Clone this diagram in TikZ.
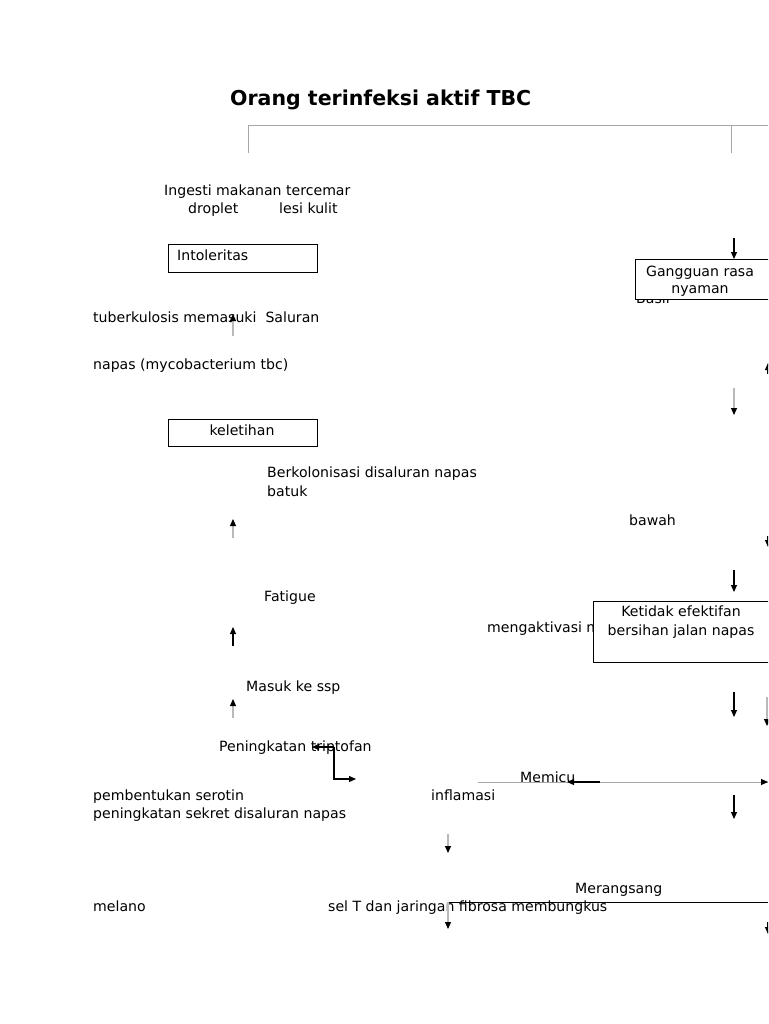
\documentclass[tikz,border=0pt]{standalone}
\usepackage{fontspec}
\setmainfont{DejaVu Sans}
\usetikzlibrary{arrows.meta}
\begin{document}
\begin{tikzpicture}[x=1pt,y=-1pt,
 lbl/.style={anchor=base west,inner sep=0pt,font=\fontsize{14.1}{17}\selectfont},
 clbl/.style={anchor=base,inner sep=0pt,font=\fontsize{14.1}{17}\selectfont},
 boxn/.style={draw=black,fill=white,line width=1pt,inner sep=0pt,anchor=north west},
 arr/.style={draw=black,line width=1.1pt,-{Triangle[length=7pt,width=6pt]}},
 garr/.style={draw=gray!55,line width=1.1pt,-{Triangle[length=7pt,width=6pt,color=black]}},
 gline/.style={draw=gray!70,line width=1pt},
 bline/.style={draw=black,line width=1pt}]
\useasboundingbox (0,0) rectangle (768,1024);
\clip (0,0) rectangle (768,1024);
\fill[white] (0,0) rectangle (768,1024);

% title and bracket
\node[anchor=base west,inner sep=0pt,font=\bfseries\fontsize{20.5}{24}\selectfont] (title) at (230,106) {Orang terinfeksi aktif TBC};
\coordinate (bl) at (248,153);
\coordinate (bt) at (248,126);
\coordinate (bend) at (775,126);
\coordinate (brt) at (731,126);
\coordinate (br) at (731,153);
\draw[gline] (bl) -- (bt) -- (bend);
\draw[gline] (brt) -- (br);

% left column texts
\node[lbl] (ingesti) at (164,196) {Ingesti makanan tercemar};
\node[lbl] (droplet) at (188,214) {droplet};
\node[lbl] (lesi) at (279,214) {lesi kulit};
\node[boxn,minimum width=149pt,minimum height=28pt] (intol) at (168,244) {};
\node[lbl] (intolt) at (177,260) {Intoleritas};
\node[lbl] (tuber) at (93,322) {tuberkulosis memasuki\ \ Saluran};
\node[lbl] (napas) at (93,369) {napas (mycobacterium tbc)};
\node[boxn,minimum width=149pt,minimum height=27pt] (kelet) at (168,419) {};
\node[clbl] (keltxt) at (242,435) {keletihan};
\node[lbl] (berkol) at (267,477) {Berkolonisasi disaluran napas};
\node[lbl] (batuk) at (267,496) {batuk};
\node[lbl] (bawah) at (629,525) {bawah};
\node[lbl] (fatigue) at (264,601) {Fatigue};
\node[lbl] (mengakt) at (487,632) {mengaktivasi m};
\node[lbl] (masuk) at (246,691) {Masuk ke ssp};
\node[lbl] (tripto) at (219,751) {Peningkatan triptofan};
\node[lbl] (memicu) at (520,782) {Memicu};
\node[lbl] (serotin) at (93,800) {pembentukan serotin};
\node[lbl] (inflam) at (431,800) {inflamasi};
\node[lbl] (sekret) at (93,818) {peningkatan sekret disaluran napas};
\node[lbl] (merang) at (575,893) {Merangsang};
\node[lbl] (melano) at (93,911) {melano};
\node[lbl] (selT) at (328,911) {sel T dan jaringan fibrosa membungkus};

% right column
\node[lbl] (basil) at (636,303) {Basil};
\node[boxn,minimum width=150pt,minimum height=40pt] (gangg) at (635,259) {};
\node[clbl] (ganggt1) at (700,276) {Gangguan rasa};
\node[clbl] (ganggt2) at (700,293) {nyaman};
\node[boxn,minimum width=190pt,minimum height=61pt] (ketid) at (593,601) {};
\node[clbl] (ketidt1) at (681,616) {Ketidak efektifan};
\node[clbl] (ketidt2) at (681,635) {bersihan jalan napas};

% left arrows (upward)
\coordinate (a1s) at (233,336); \coordinate (a1e) at (233,314);
\draw[garr] (a1s) -- (a1e);
\coordinate (a2s) at (233,538); \coordinate (a2e) at (233,519);
\draw[garr] (a2s) -- (a2e);
\coordinate (a3s) at (233,646); \coordinate (a3e) at (233,627);
\draw[arr] (a3s) -- (a3e);
\coordinate (a4s) at (233,718); \coordinate (a4e) at (233,699);
\draw[garr] (a4s) -- (a4e);

% elbow near triptofan
\coordinate (e0) at (334,747);
\coordinate (eL) at (312,747);
\coordinate (eB) at (334,779);
\coordinate (eR) at (356,779);
\draw[arr] (e0) -- (eL);
\draw[arr] (e0) -- (eB) -- (eR);

% Memicu line
\coordinate (m0) at (478,782);
\coordinate (mL) at (567,782);
\coordinate (mR) at (768,782);
\draw[gline] (m0) -- (mR);
\draw[arr] (600,782) -- (mL);
\draw[-{Triangle[length=7pt,width=6pt,color=black]},draw=gray!70,line width=1pt] (740,782) -- (mR);

% lower left-center arrows
\coordinate (d1s) at (448,834); \coordinate (d1e) at (448,853);
\draw[garr] (d1s) -- (d1e);
\coordinate (s0) at (448,902); \coordinate (sR) at (768,902);
\draw[bline] (s0) -- (sR);
\coordinate (d2e) at (448,929);
\draw[garr] (s0) -- (d2e);

% right column arrows (downward)
\coordinate (r1s) at (734,238); \coordinate (r1e) at (734,259);
\draw[arr] (r1s) -- (r1e);
\coordinate (r2s) at (734,388); \coordinate (r2e) at (734,415);
\draw[garr] (r2s) -- (r2e);
\coordinate (r3s) at (734,570); \coordinate (r3e) at (734,592);
\draw[arr] (r3s) -- (r3e);
\coordinate (r4s) at (734,692); \coordinate (r4e) at (734,717);
\draw[arr] (r4s) -- (r4e);
\coordinate (r5s) at (734,795); \coordinate (r5e) at (734,819);
\draw[arr] (r5s) -- (r5e);

% arrowheads at the right edge
\coordinate (x1s) at (768,374); \coordinate (x1e) at (768,363);
\draw[arr] (x1s) -- (x1e);
\coordinate (x2s) at (768,536); \coordinate (x2e) at (768,547);
\draw[arr] (x2s) -- (x2e);
\coordinate (x3s) at (767,697); \coordinate (x3e) at (767,726);
\draw[garr] (x3s) -- (x3e);
\coordinate (x4s) at (768,922); \coordinate (x4e) at (768,934);
\draw[arr] (x4s) -- (x4e);
\end{tikzpicture}
\end{document}
